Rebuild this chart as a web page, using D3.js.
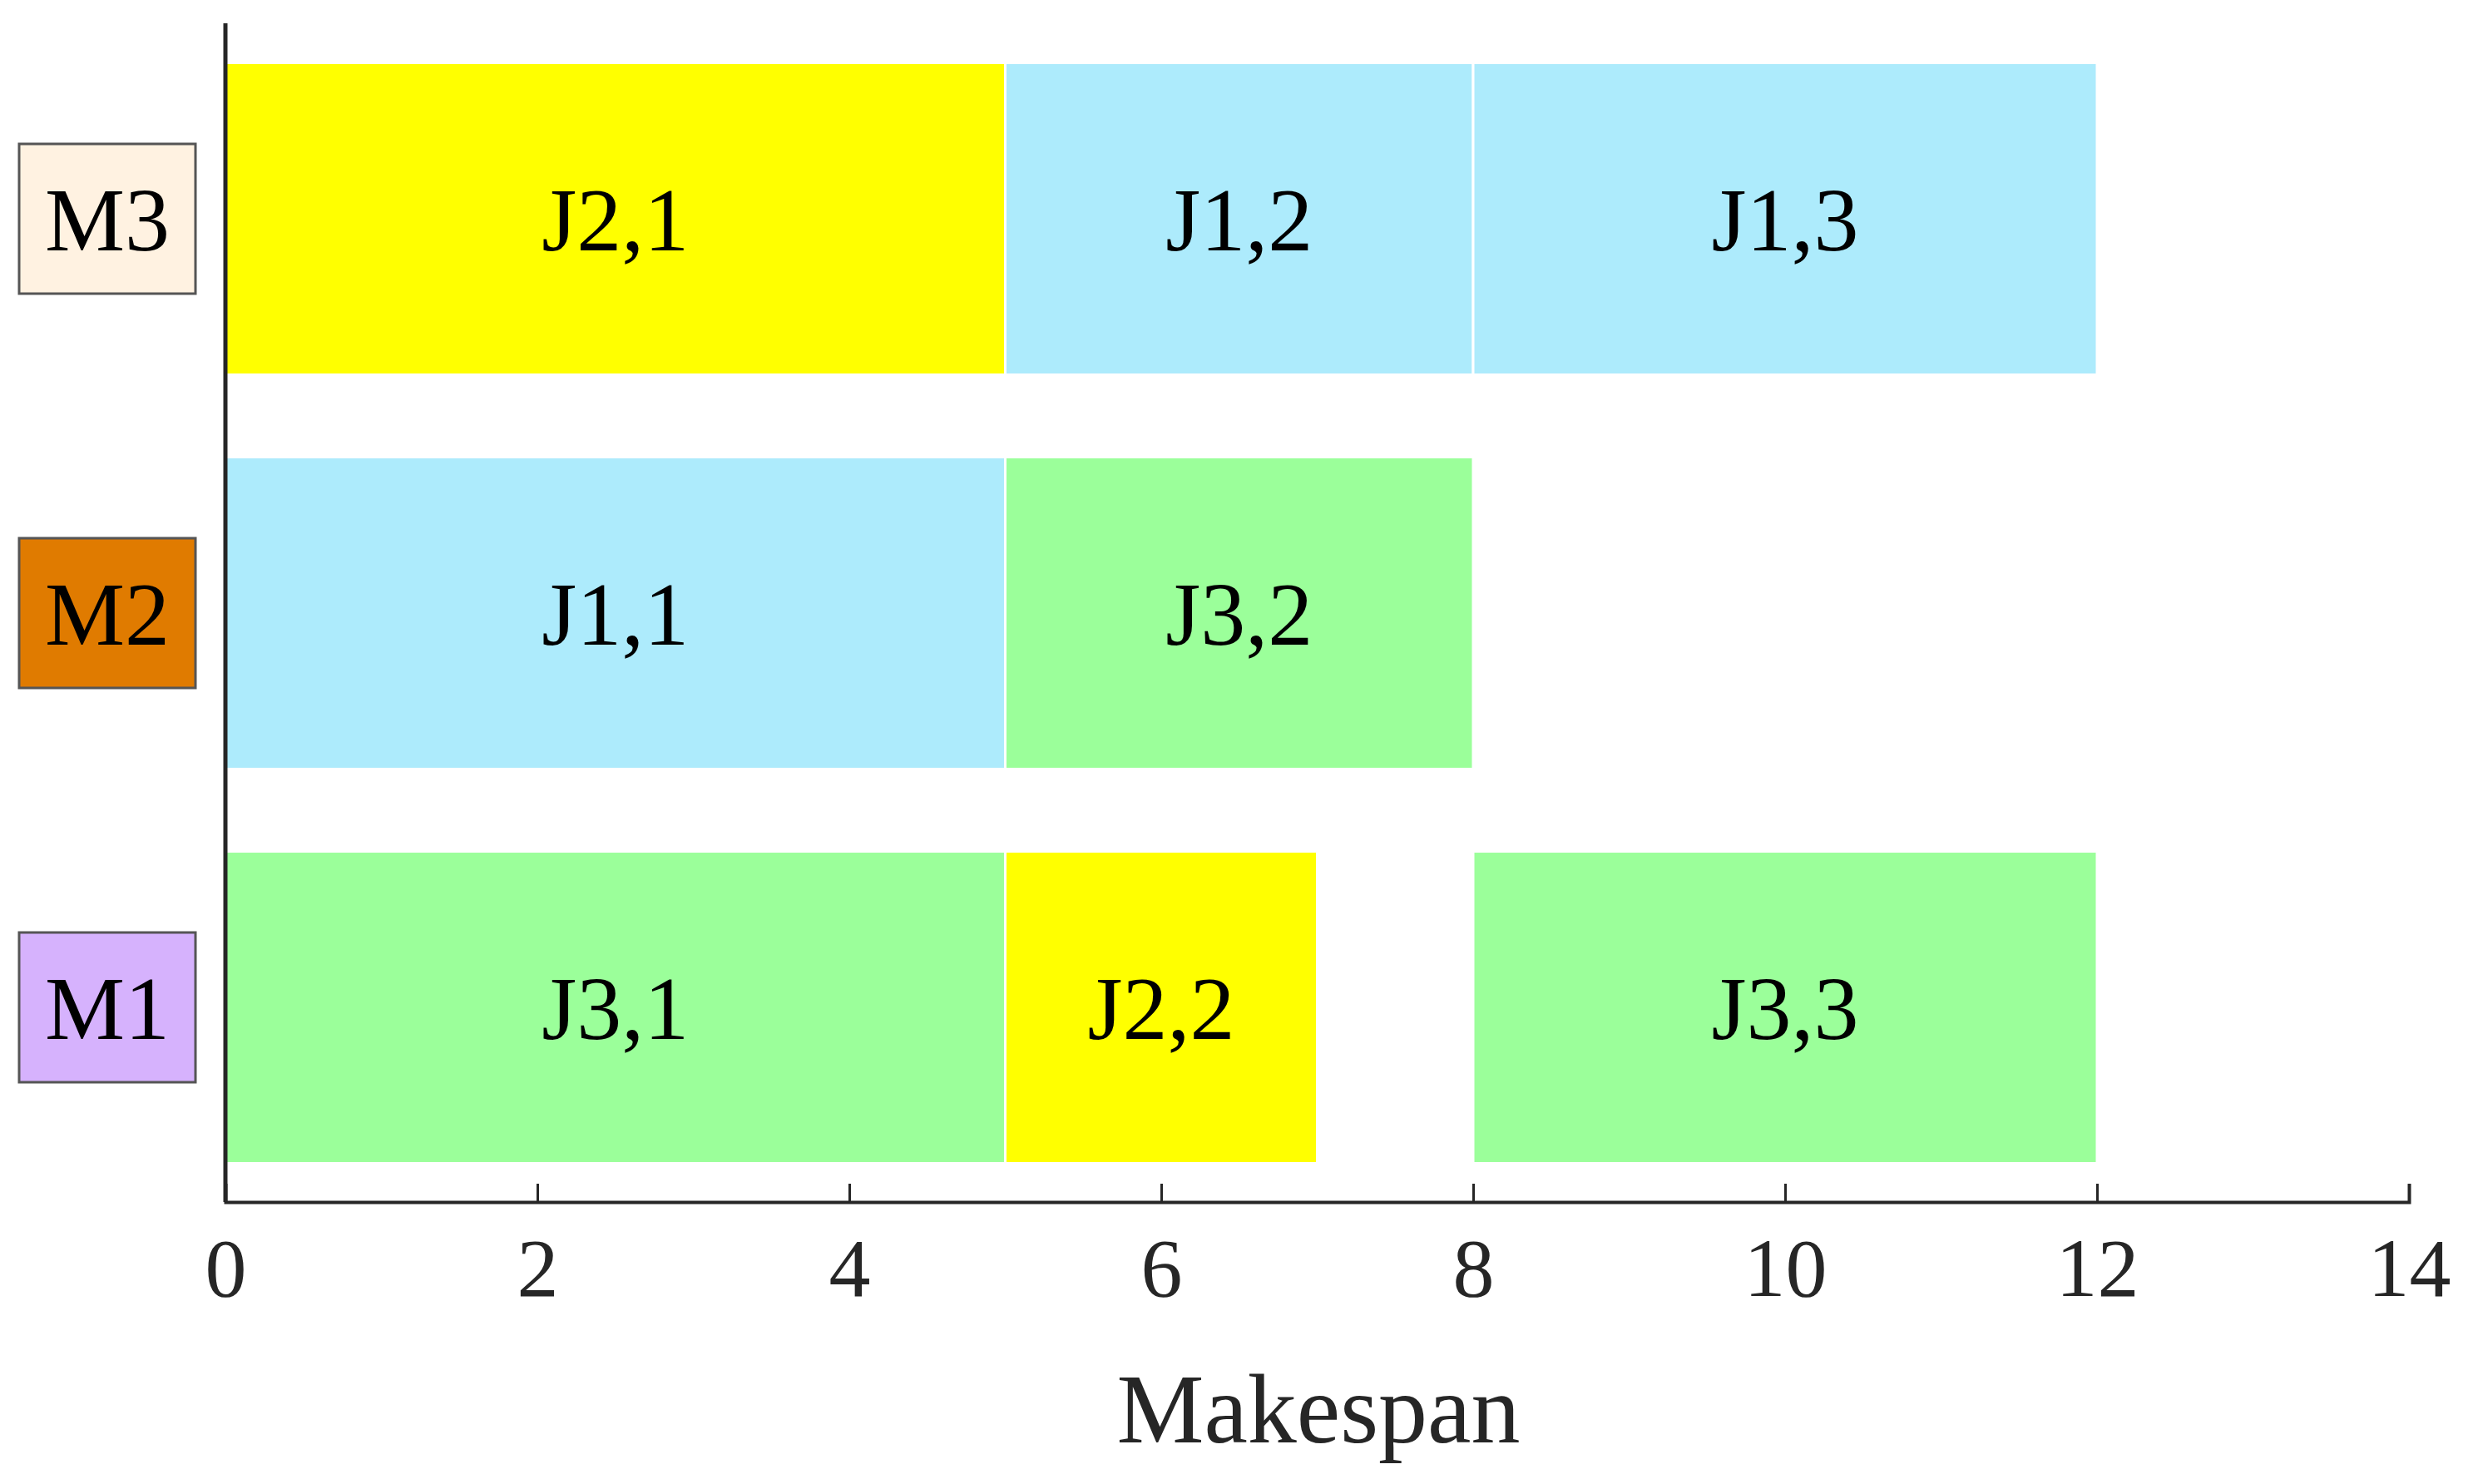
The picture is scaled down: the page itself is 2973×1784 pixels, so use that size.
<!DOCTYPE html>
<html><head><meta charset="utf-8">
<script src="https://cdn.jsdelivr.net/npm/d3@7"></script>
<style>body{margin:0;background:#fff}</style>
</head><body>
<script>
const machines = ["M1", "M2", "M3"]
const machineColors = ["#d6b2fd", "#e07b00", "#fff2e1"]
const ops = [
  { m: "M3", label: "J2,1", start: 0, end: 5, job: 2 },
  { m: "M3", label: "J1,2", start: 5, end: 8, job: 1 },
  { m: "M3", label: "J1,3", start: 8, end: 12, job: 1 },
  { m: "M2", label: "J1,1", start: 0, end: 5, job: 1 },
  { m: "M2", label: "J3,2", start: 5, end: 8, job: 3 },
  { m: "M1", label: "J3,1", start: 0, end: 5, job: 3 },
  { m: "M1", label: "J2,2", start: 5, end: 7, job: 2 },
  { m: "M1", label: "J3,3", start: 8, end: 12, job: 3 }
]
const jobColors = { 1: "#adebfc", 2: "#ffff00", 3: "#9bff9a" }
const xTicks = [0, 2, 4, 6, 8, 10, 12, 14]

const W = 2973, H = 1784
const svg = d3.select("body").append("svg").attr("width", W).attr("height", H)
  .style("font-family", "'Liberation Serif', serif")

const x = d3.scaleLinear().domain([0, 14]).range([271, 2896])
const y = d3.scaleBand().domain(machines).range([1448, 26]).paddingInner(0.209).paddingOuter(0.1045)
const axisY = 1445

svg.selectAll("rect.op").data(ops).enter().append("rect")
  .attr("class", "op")
  .attr("x", d => x(d.start))
  .attr("y", d => y(d.m))
  .attr("width", d => x(d.end) - x(d.start))
  .attr("height", y.bandwidth())
  .attr("fill", d => jobColors[d.job])
  .attr("stroke", "#fff").attr("stroke-width", 3)

svg.selectAll("text.op").data(ops).enter().append("text")
  .attr("x", d => (x(d.start) + x(d.end)) / 2)
  .attr("y", d => y(d.m) + y.bandwidth() / 2)
  .attr("dy", "0.35em")
  .attr("text-anchor", "middle")
  .attr("font-size", 108)
  .text(d => d.label)

// axes
const xAxis = d3.axisBottom(x).tickValues(xTicks).tickSize(-22).tickPadding(42).tickFormat(d3.format("d"))
const gx = svg.append("g").attr("transform", `translate(0,${axisY})`).call(xAxis)
gx.select(".domain").attr("stroke", "#262626").attr("stroke-width", 4)
gx.selectAll(".tick line").attr("stroke", "#262626").attr("stroke-width", 3)
gx.selectAll(".tick text").attr("font-size", 100).attr("fill", "#262626")
  .attr("font-family", "'Liberation Serif', serif")

svg.append("line").attr("x1", x(0)).attr("x2", x(0)).attr("y1", 28).attr("y2", axisY)
  .attr("stroke", "#262626").attr("stroke-width", 5)

svg.append("text").attr("x", 1585).attr("y", 1693).attr("dy", "0.35em").attr("text-anchor", "middle")
  .attr("font-size", 118).attr("fill", "#262626").text("Makespan")

// machine label boxes
const lab = svg.selectAll("g.mlab").data(machines).enter().append("g")
  .attr("transform", d => `translate(23,${y(d) + y.bandwidth() / 2 - 90})`)
lab.append("rect").attr("width", 212).attr("height", 180)
  .attr("fill", (d, i) => machineColors[i]).attr("stroke", "#555").attr("stroke-width", 3)
lab.append("text").attr("x", 106).attr("y", 90).attr("dy", "0.35em")
  .attr("text-anchor", "middle").attr("font-size", 108).text(d => d)
</script>
</body></html>
